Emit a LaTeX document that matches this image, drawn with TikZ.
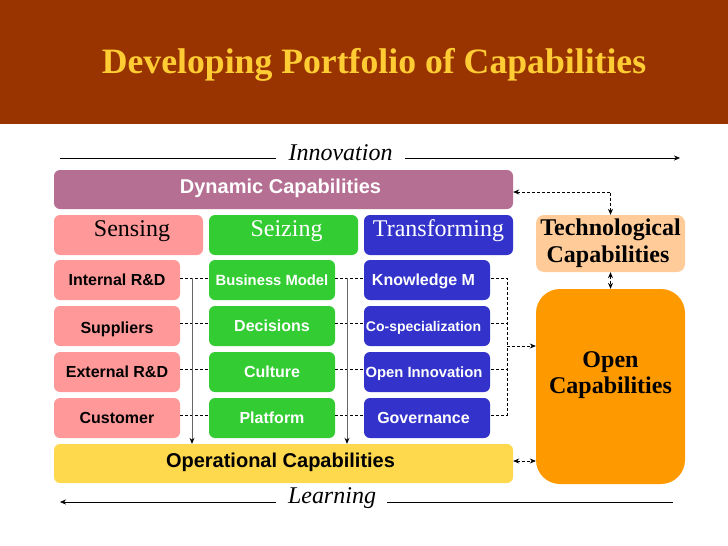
\documentclass[tikz,border=0pt]{standalone}
\usepackage{fontspec}
\setmainfont{Liberation Serif}
\setsansfont{Liberation Sans}
\usetikzlibrary{arrows.meta}
\definecolor{titlebg}{HTML}{993300}
\definecolor{titletxt}{HTML}{FFCC33}
\definecolor{dynbg}{HTML}{B56F93}
\definecolor{pinkbg}{HTML}{FF9999}
\definecolor{greenbg}{HTML}{33CC33}
\definecolor{bluebg}{HTML}{3333CC}
\definecolor{yellowbg}{HTML}{FFD94D}
\definecolor{peachbg}{HTML}{FFCC99}
\definecolor{orangebg}{HTML}{FF9900}
\begin{document}
\begin{tikzpicture}
		[	x=1pt,y=-1pt,
		box/.style={rectangle,draw=none,rounded corners=6pt,inner sep=0pt,minimum width=126pt,minimum height=40pt,text height=12pt,text depth=1pt,font=\sffamily\bfseries\fontsize{16}{18}\selectfont},
		tight/.style={font=\sffamily\bfseries\fontsize{14.8}{18}\selectfont},
		head/.style={box,minimum width=149pt,text height=16pt,text depth=13pt,font=\fontsize{24}{26}\selectfont},
		wide/.style={box,minimum width=459pt,minimum height=39pt,text height=15pt,text depth=7pt,font=\sffamily\bfseries\fontsize{20}{22}\selectfont},
		side/.style={rectangle,draw=none,minimum width=149pt,inner sep=0pt,align=center,font=\bfseries\fontsize{24}{27}\selectfont},
		plain/.style={draw=none,fill=none,inner sep=0pt,font=\itshape\fontsize{24}{26}\selectfont},
		link/.style={densely dashed,line width=.7pt},
		tip/.style={-{Stealth[length=6pt,width=5pt]}},
		both/.style={{Stealth[length=6pt,width=5pt]}-{Stealth[length=6pt,width=5pt]}},
		down/.style={draw=black!60,line width=.9pt,-{Stealth[length=6pt,width=5pt,color=black]}}
		]
		\useasboundingbox (0,0) rectangle (728,546);
		\fill[titlebg] (0,0) rectangle (728,124);
		\node[draw=none,inner sep=0pt,text=titletxt,font=\bfseries\fontsize{35.7}{38}\selectfont] (title) at (374,65){Developing Portfolio of Capabilities};

		\node[plain] (innov) at (340.5,153){Innovation};
		\node[plain] (learn) at (332,498){Learning};

		\node[wide,fill=dynbg,text=white] (dyn) at (283.5,189.5){\hspace{-6pt}Dynamic Capabilities};
		\node[head,fill=pinkbg] (sens) at (128.5,235){\hspace{7pt}Sensing};
		\node[head,fill=greenbg,text=white] (seiz) at (283.5,235){\hspace{6pt}Seizing};
		\node[head,fill=bluebg,text=white] (trans) at (438.5,235){Transforming};

		\node[box,fill=pinkbg] (intern) at (117,280){Internal R\&D};
		\node[box,fill=pinkbg] (suppl) at (117,326){\raisebox{-2pt}{Suppliers}};
		\node[box,fill=pinkbg] (extern) at (117,372){External R\&D};
		\node[box,fill=pinkbg] (custom) at (117,418){Customer};

		\node[box,tight,fill=greenbg,text=white] (busin) at (272,280){Business Model};
		\node[box,fill=greenbg,text=white] (decis) at (272,326){Decisions};
		\node[box,fill=greenbg,text=white] (cult) at (272,372){Culture};
		\node[box,fill=greenbg,text=white] (platf) at (272,418){Platform};

		\node[box,fill=bluebg,text=white] (knowl) at (427,280){\hspace{-7pt}Knowledge M};
		\node[box,font=\sffamily\bfseries\fontsize{14}{18}\selectfont,fill=bluebg,text=white] (cospec) at (427,326){\hspace{-7pt}Co-specialization};
		\node[box,tight,fill=bluebg,text=white] (openin) at (427,372){\hspace{-6pt}Open Innovation};
		\node[box,fill=bluebg,text=white] (govern) at (427,418){\hspace{-7pt}Governance};

		\node[wide,fill=yellowbg] (oper) at (283.5,463.5){\hspace{-6pt}Operational Capabilities};
		\node[side,fill=peachbg,rounded corners=8pt,minimum height=57pt] (tech) at (610.5,243.5){Technological\\Capabilities\hspace*{5pt}};
		\node[side,fill=orangebg,rounded corners=24pt,minimum height=195pt] (opencap) at (610.5,386.5){Open\\[-1pt]Capabilities\hspace*{5pt}\\\mbox{}};

		\coordinate (innovL) at (60,158);
		\coordinate (innovR) at (680,158);
		\coordinate (learnL) at (60,502);
		\coordinate (learnR) at (673,502);
		\coordinate (trunk) at (507,346);
		\coordinate (downA) at (192,278);
		\coordinate (downB) at (347,278);

		\draw (innovL) -- ([xshift=-12pt]innov.west |- innovL);
		\draw[tip] ([xshift=12pt]innov.east |- innovR) -- (innovR);
		\draw[tip] ([xshift=-12pt]learn.west |- learnL) -- (learnL);
		\draw ([xshift=11pt]learn.east |- learnR) -- (learnR);

		\draw[link] ([yshift=2pt]intern.east) -- ([yshift=2pt]busin.west);
		\draw[link] ([yshift=3pt]suppl.east) -- ([yshift=3pt]decis.west);
		\draw[link] ([yshift=3pt]extern.east) -- ([yshift=3pt]cult.west);
		\draw[link] ([yshift=3pt]custom.east) -- ([yshift=3pt]platf.west);
		\draw[link] ([yshift=2pt]busin.east) -- ([yshift=2pt]knowl.west);
		\draw[link] ([yshift=3pt]decis.east) -- ([yshift=3pt]cospec.west);
		\draw[link] ([yshift=3pt]cult.east) -- ([yshift=3pt]openin.west);
		\draw[link] ([yshift=3pt]platf.east) -- ([yshift=3pt]govern.west);

		\draw[link] ([yshift=2pt,xshift=1pt]knowl.east) -| (trunk);
		\draw[link] ([yshift=3pt,xshift=1pt]cospec.east) -- ([yshift=3pt]cospec.east -| trunk);
		\draw[link] ([yshift=3pt,xshift=1pt]openin.east) -- ([yshift=3pt]openin.east -| trunk);
		\draw[link] ([yshift=3pt,xshift=1pt]govern.east) -| (trunk);
		\draw[link,tip] (trunk) -- (trunk -| opencap.west);

		\draw[down] (downA) -- (downA |- oper.north);
		\draw[down] (downB) -- (downB |- oper.north);

		\draw[link,both] ([yshift=-2.5pt]dyn.east) -| (tech.north);
		\draw[link,both] (tech.south) -- (opencap.north);
		\draw[link,both] ([yshift=2.5pt]oper.east) -- ([yshift=2.5pt]oper.east -| opencap.west);
	\end{tikzpicture}
\end{document}
